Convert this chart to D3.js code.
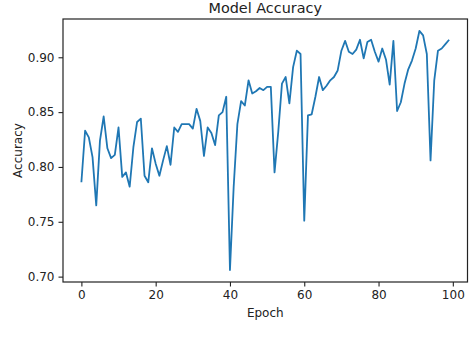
<!DOCTYPE html>
<html>
<head>
<meta charset="utf-8">
<script src="https://cdn.jsdelivr.net/npm/d3@7"></script>
<style>
  html, body { margin: 0; padding: 0; background: #fff; }
  svg { display: block; }
  text { font-family: "DejaVu Sans", sans-serif; fill: #222; }
</style>
</head>
<body>
<svg id="chart" width="474" height="351"></svg>
<script>
// Data
const epochs = d3.range(0, 100);
const accuracy = [
  0.786, 0.833, 0.827, 0.809, 0.765, 0.824, 0.846, 0.817, 0.808, 0.811,
  0.836, 0.791, 0.795, 0.782, 0.818, 0.841, 0.844, 0.792, 0.786, 0.817,
  0.803, 0.792, 0.806, 0.819, 0.802, 0.836, 0.832, 0.839, 0.839, 0.839,
  0.835, 0.853, 0.842, 0.810, 0.836, 0.831, 0.820, 0.847, 0.850, 0.864,
  0.706, 0.782, 0.839, 0.860, 0.856, 0.879, 0.867, 0.869, 0.872, 0.870,
  0.873, 0.873, 0.795, 0.832, 0.876, 0.882, 0.858, 0.891, 0.906, 0.903,
  0.751, 0.847, 0.848, 0.864, 0.882, 0.870, 0.874, 0.879, 0.882, 0.888,
  0.906, 0.915, 0.905, 0.903, 0.907, 0.916, 0.899, 0.914, 0.916, 0.905,
  0.896, 0.908, 0.898, 0.875, 0.915, 0.851, 0.859, 0.876, 0.889, 0.897,
  0.908, 0.924, 0.920, 0.903, 0.806, 0.879, 0.906, 0.908, 0.912, 0.916
];
const xTicks = [0, 20, 40, 60, 80, 100];
const yTicks = [0.70, 0.75, 0.80, 0.85, 0.90];
const titleText = "Model Accuracy";
const xLabel = "Epoch";
const yLabel = "Accuracy";

const svg = d3.select("#chart");
const mLeft = 63, mRight = 467.5, mTop = 19, mBottom = 282;

// matplotlib-style 5% autoscale margins
const xExt = d3.extent(epochs), yExt = d3.extent(accuracy);
const xm = (xExt[1] - xExt[0]) * 0.05, ym = (yExt[1] - yExt[0]) * 0.05;
const x = d3.scaleLinear().domain([xExt[0] - xm, xExt[1] + xm]).range([mLeft, mRight]);
const y = d3.scaleLinear().domain([yExt[0] - ym, yExt[1] + ym]).range([mBottom, mTop]);

// line
const line = d3.line().x((d, i) => x(epochs[i])).y(d => y(d));
svg.append("path")
  .datum(accuracy)
  .attr("d", line)
  .attr("fill", "none")
  .attr("stroke", "#1f77b4")
  .attr("stroke-width", 1.8)
  .attr("stroke-linejoin", "round");

// axes
const xAxis = d3.axisBottom(x).tickValues(xTicks).tickSize(4.5).tickPadding(4).tickFormat(d3.format("d"));
const yAxis = d3.axisLeft(y).tickValues(yTicks).tickSize(4.5).tickPadding(4).tickFormat(d3.format(".2f"));

const gx = svg.append("g").attr("transform", `translate(0,${mBottom})`).call(xAxis);
const gy = svg.append("g").attr("transform", `translate(${mLeft},0)`).call(yAxis);
[gx, gy].forEach(g => {
  g.select(".domain").remove();
  g.selectAll(".tick line").attr("stroke", "#222").attr("stroke-width", 1.1);
  g.selectAll(".tick text").attr("font-size", 12).attr("fill", "#222")
    .style("font-family", "DejaVu Sans, sans-serif");
});

// frame
svg.append("rect")
  .attr("x", mLeft).attr("y", mTop)
  .attr("width", mRight - mLeft).attr("height", mBottom - mTop)
  .attr("fill", "none").attr("stroke", "#222").attr("stroke-width", 1.2);

// title and labels
svg.append("text").attr("x", (mLeft + mRight) / 2).attr("y", 13)
  .attr("text-anchor", "middle").attr("font-size", 14.4).text(titleText);
svg.append("text").attr("x", (mLeft + mRight) / 2).attr("y", 317)
  .attr("text-anchor", "middle").attr("font-size", 12).text(xLabel);
svg.append("text")
  .attr("transform", `translate(22,${(mTop + mBottom) / 2}) rotate(-90)`)
  .attr("text-anchor", "middle").attr("font-size", 12).text(yLabel);
</script>
</body>
</html>
